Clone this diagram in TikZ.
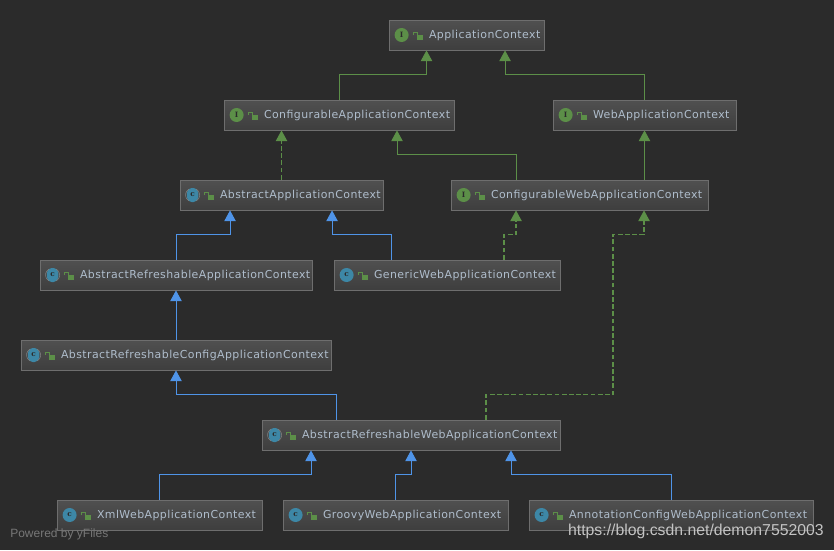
\documentclass[tikz,border=0pt]{standalone}
\usepackage{fontspec}
\setmainfont[LetterSpace=4]{DejaVu Sans}
\newfontfamily\markfont{Liberation Sans}
\newfontfamily\dotfont{DejaVu Serif}
\usetikzlibrary{positioning,arrows.meta}

\definecolor{canvas}{HTML}{2B2B2B}
\definecolor{boxedge}{HTML}{6E6E6E}
\definecolor{boxtop}{HTML}{505050}
\definecolor{boxbot}{HTML}{3E3E3E}
\definecolor{boxtext}{HTML}{AFBDCC}
\definecolor{ifcgreen}{HTML}{5C8F48}
\definecolor{clsblue}{HTML}{3D87A6}
\definecolor{extblue}{HTML}{4F94E8}

\tikzset{
  classbox/.style={draw=boxedge,semithick,top color=boxtop,bottom color=boxbot,minimum height=22.5pt,inner xsep=0pt,inner ysep=0pt,align=left,text=boxtext,font=\fontsize{8.2}{10}\selectfont},
  ifcdot/.style={circle,fill=ifcgreen,minimum size=10.5pt,inner sep=0pt,text=canvas,font=\dotfont\fontsize{5.5}{5.5}\selectfont\bfseries},
  clsdot/.style={ifcdot,fill=clsblue},
  absdot/.style={clsdot,rectangle,rounded corners=3.5pt,minimum width=8.5pt,minimum height=10.5pt},
  extends/.style={draw=extblue,line width=0.75pt,-{Triangle[length=8pt,width=8.5pt,fill=extblue]}},
  implements/.style={draw=ifcgreen,line width=0.75pt,-{Triangle[length=8pt,width=8.5pt,fill=ifcgreen]}},
  realizes/.style={implements,line width=0.85pt,dash pattern=on 3.6pt off 1.8pt},
  lockicon/.pic={
    \fill[ifcgreen] (0,0) rectangle (6,4.5);
    \draw[ifcgreen,line width=0.6pt] (1,0) -- (1,-3) -- (-3,-3) -- (-3,0);
  }
}

% name, centre x, centre y, width, dot style, letter, text
\newcommand{\classnode}[7]{
  \node[classbox,text width=#4*0.75pt] (#1) at (#2,#3) {\hspace*{30pt}\raisebox{-0.9pt}{#7}};
  \node[#5] (#1dot) at ([xshift=9.75pt]#1.west) {#6};
  \pic at ([xshift=21pt]#1.west) {lockicon};
}
\newcommand{\absmark}[1]{
  \draw[gray,line width=0.4pt] ([shift={(-2.8pt,4.3pt)}]#1dot.center) arc[start angle=120,end angle=240,radius=5pt];
  \draw[gray,line width=0.4pt] ([shift={(2.8pt,4.3pt)}]#1dot.center) arc[start angle=60,end angle=-60,radius=5pt];
}

\begin{document}
\begin{tikzpicture}[x=0.75pt,y=-0.75pt]
\fill[canvas] (0,0) rectangle (834,550);
\useasboundingbox (0,0) rectangle (834,550);

\classnode{app}{466.5}{35}{155}{ifcdot}{I}{ApplicationContext}
\classnode{cac}{339}{115}{230}{ifcdot}{I}{ConfigurableApplicationContext}
\classnode{wac}{644.5}{115}{183}{ifcdot}{I}{WebApplicationContext}
\classnode{abs}{281.5}{195}{203}{absdot}{c}{AbstractApplicationContext}
\classnode{cwac}{579.5}{195}{257}{ifcdot}{I}{ConfigurableWebApplicationContext}
\classnode{arac}{176}{275}{272}{absdot}{c}{AbstractRefreshableApplicationContext}
\classnode{gwac}{447}{275}{226}{clsdot}{c}{GenericWebApplicationContext}
\classnode{arcac}{176}{355}{310}{absdot}{c}{AbstractRefreshableConfigApplicationContext}
\classnode{arwac}{411}{435}{298}{absdot}{c}{AbstractRefreshableWebApplicationContext}
\classnode{xwac}{159.5}{515}{205}{clsdot}{c}{XmlWebApplicationContext}
\classnode{gvac}{395.5}{515}{225}{clsdot}{c}{GroovyWebApplicationContext}
\classnode{acwac}{671}{515}{284}{clsdot}{c}{AnnotationConfigWebApplicationContext}
\absmark{abs}
\absmark{arac}
\absmark{arcac}
\absmark{arwac}

\draw[implements] (cac.north) -- ++(0,-25) -| ([xshift=-30pt]app.south);
\draw[implements] (wac.north) -- ++(0,-25) -| ([xshift=28.9pt]app.south);
\draw[realizes] (abs.north) -- (abs.north |- cac.south);
\draw[implements] ([xshift=-47.6pt]cwac.north) -- ++(0,-25) -| ([xshift=43.5pt]cac.south);
\draw[implements] (wac.south |- cwac.north) -- (wac.south);
\draw[extends] (arac.north) -- ++(0,-25) -| ([xshift=-38.6pt]abs.south);
\draw[extends] ([xshift=-42pt]gwac.north) -- ++(0,-25) -| ([xshift=37.9pt]abs.south);
\draw[realizes] ([xshift=42.75pt]gwac.north) -- ++(0,-25) -| ([xshift=-47.6pt]cwac.south);
\draw[extends] (arcac.north) -- (arac.south);
\draw[extends] ([xshift=-56.25pt]arwac.north) -- ++(0,-25) -| (arcac.south);
\draw[realizes] ([xshift=56.25pt]arwac.north) -- ++(0,-25) -- ++(127,0) -- ++(0,-160) -| ([xshift=48.4pt]cwac.south);
\draw[extends] (xwac.north) -- ++(0,-25) -| ([xshift=-75pt]arwac.south);
\draw[extends] (gvac.north) -- ++(0,-25) -| (arwac.south);
\draw[extends] (acwac.north) -- ++(0,-25) -| ([xshift=75pt]arwac.south);

\node[anchor=west,inner sep=0pt,text=white!36!canvas,font=\markfont\fontsize{9}{9}\selectfont] (powered) at (10,534.5) {Powered by yFiles};
\node[anchor=east,inner sep=0pt,text=white!72!canvas,font=\markfont\fontsize{11.85}{11.85}\selectfont] (blogmark) at (824,531) {https://blog.csdn.net/demon7552003};
\end{tikzpicture}
\end{document}
